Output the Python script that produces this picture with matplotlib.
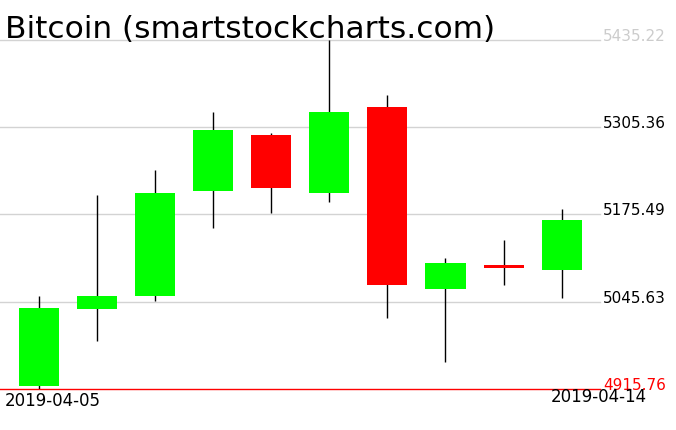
import numpy as np
import matplotlib
matplotlib.use('Agg')
import matplotlib.pyplot as plt

# daily candles
dates = ['2019-04-05', '2019-04-06', '2019-04-07', '2019-04-08', '2019-04-09',
         '2019-04-10', '2019-04-11', '2019-04-12', '2019-04-13', '2019-04-14']
opens = [4920.7, 5034.8, 5054.1, 5210.8, 5293.6, 5207.8, 5335.3, 5065.0, 5100.5, 5093.2]
highs = [5054.1, 5204.4, 5241.6, 5327.8, 5296.6, 5435.22, 5353.1, 5110.6, 5137.4, 5183.5]
lows = [4915.76, 4987.6, 5047.1, 5155.7, 5178.0, 5194.4, 5020.9, 4956.4, 5070.9, 5051.6]
closes = [5036.3, 5054.1, 5207.3, 5301.1, 5215.2, 5327.8, 5070.9, 5103.2, 5096.0, 5167.2]

# price levels shown on the right, bottom to top
levels = [4915.76, 5045.63, 5175.49, 5305.36, 5435.22]
level_labels = ['4915.76', '5045.63', '5175.49', '5305.36', '5435.22']

title = 'Bitcoin (smartstockcharts.com)'

W, H = 676, 431
fig = plt.figure(figsize=(W / 100, H / 100), dpi=100)
ax = fig.add_axes([0, (H - 390) / H, 600 / W, (390 - 40.7) / H])

# grid lines, bottom one red
for i, lv in enumerate(levels):
    col = 'red' if i == 0 else '#d3d3d3'
    ax.axhline(lv, color=col, lw=1.0, zorder=0, clip_on=False)

x = np.arange(len(dates))
for i in x:
    o, h, l, c = opens[i], highs[i], lows[i], closes[i]
    col = '#00ff00' if c >= o else '#ff0000'
    ax.vlines(i, l, h, color='black', lw=1.0, zorder=1)
    ax.bar(i, abs(c - o), bottom=min(o, c), width=0.69, color=col, zorder=2)

ax.set_xlim(-0.67, 9.66)
ax.set_ylim(levels[0], levels[-1])
ax.axis('off')

# price labels at right of grid lines
label_cols = ['red', 'black', 'black', 'black', '#cccccc']
trans = ax.get_yaxis_transform()
for lv, txt, col in zip(levels, level_labels, label_cols):
    ax.text(1.005, lv, txt, transform=trans, color=col, fontsize=11,
            ha='left', va='baseline', clip_on=False)

fig.text(5 / W, 1 - 406 / H, dates[0], fontsize=12, ha='left', va='baseline')
fig.text(647 / W, 1 - 402 / H, dates[-1], fontsize=12, ha='right', va='baseline')
fig.text(5 / W, 1 - 38 / H, title, fontsize=22.5, ha='left', va='baseline')

fig.savefig('out.png', dpi=100)
